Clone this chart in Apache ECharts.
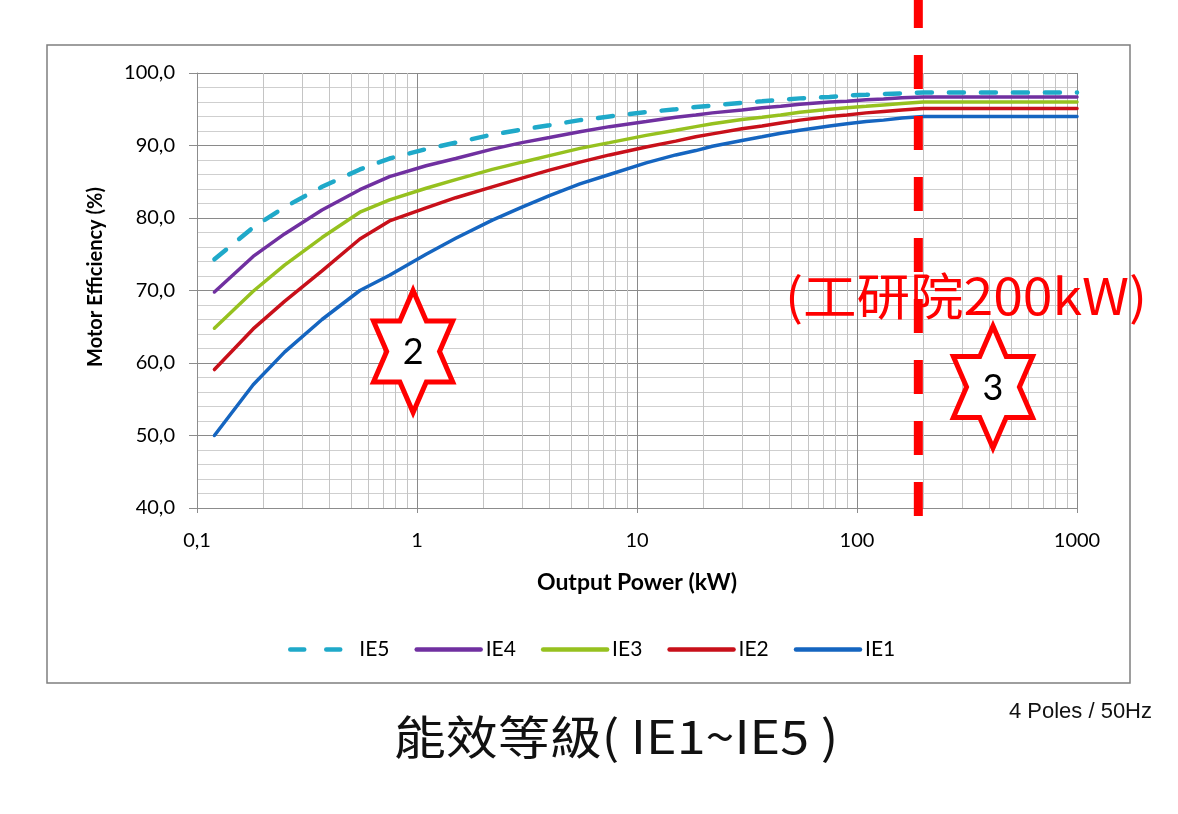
<!DOCTYPE html>
<html>
<head>
<meta charset="utf-8">
<title>能效等級</title>
<script src="https://cdn.jsdelivr.net/npm/echarts@6/dist/echarts.min.js"></script>
<style>
    html, body { margin: 0; padding: 0; background: #fff; }
    #chart { width: 1178px; height: 814px; }
</style>
</head>
<body>
<div id="chart"></div>
<script>
// rated output power (kW), 4 poles / 50Hz
const powers = [0.12, 0.18, 0.25, 0.37, 0.55, 0.75, 1.1, 1.5, 2.2, 3, 4, 5.5, 7.5, 11, 15, 18.5, 22, 30, 37, 45, 55, 75, 90, 110, 132, 160, 200, 1000]

const ie5 = [74.3, 78.7, 81.5, 84.3, 86.7, 88.2, 89.5, 90.4, 91.5, 92.2, 92.8, 93.5, 94.0, 94.6, 95.0, 95.3, 95.5, 95.9, 96.1, 96.3, 96.5, 96.7, 96.9, 97.0, 97.1, 97.2, 97.3, 97.3]
const ie4 = [69.8, 74.7, 77.8, 81.1, 83.9, 85.7, 87.2, 88.2, 89.5, 90.4, 91.1, 91.9, 92.6, 93.3, 93.9, 94.2, 94.5, 94.9, 95.2, 95.4, 95.7, 96.0, 96.1, 96.3, 96.4, 96.6, 96.7, 96.7]
const ie3 = [64.8, 69.9, 73.5, 77.3, 80.8, 82.5, 84.1, 85.3, 86.7, 87.7, 88.6, 89.6, 90.4, 91.4, 92.1, 92.6, 93.0, 93.6, 93.9, 94.2, 94.6, 95.0, 95.2, 95.4, 95.6, 95.8, 96.0, 96.0]
const ie2 = [59.1, 64.7, 68.5, 72.7, 77.1, 79.6, 81.4, 82.8, 84.3, 85.5, 86.6, 87.7, 88.7, 89.8, 90.6, 91.2, 91.6, 92.3, 92.7, 93.1, 93.5, 94.0, 94.2, 94.5, 94.7, 94.9, 95.1, 95.1]
const ie1 = [50.0, 57.0, 61.5, 66.0, 70.0, 72.1, 75.0, 77.2, 79.7, 81.5, 83.1, 84.7, 86.0, 87.6, 88.7, 89.3, 89.9, 90.7, 91.2, 91.7, 92.1, 92.7, 93.0, 93.3, 93.5, 93.8, 94.0, 94.0]

// log-axis minor gridlines (2..9 of each decade)
const minorPowers = [0.2, 0.3, 0.4, 0.5, 0.6, 0.7, 0.8, 0.9, 2, 3, 4, 5, 6, 7, 8, 9, 20, 30, 40, 50, 60, 70, 80, 90, 200, 300, 400, 500, 600, 700, 800, 900]

// hand-drawn annotations (the red marker sits just left of the 200 gridline)
const markKW = 190
const stars = [
    { label: '2', at: [0.96, 61.6] },
    { label: '3', at: [415, 56.7] }
]

const font = 'Lato, "Open Sans", sans-serif'
const cjk = '"Noto Sans CJK TC", "Noto Sans CJK SC", sans-serif'

const chart = echarts.init(document.getElementById('chart'))

const pair = ys => powers.map((p, i) => [p, ys[i]])

const lineSeries = (name, ys, color, dashed) => ({
    name: name,
    type: 'line',
    data: pair(ys),
    showSymbol: false,
    symbol: 'none',
    z: 3,
    lineStyle: {
        color: color,
        width: dashed ? 4.5 : 3.5,
        type: dashed ? [15, 17] : 'solid',
        cap: 'round'
    },
    itemStyle: { color: color }
})

chart.setOption({
    animation: false,
    backgroundColor: '#fff',
    grid: { left: 197, right: 101, top: 73, bottom: 306 },
    legend: {
        left: 283,
        top: 634,
        itemWidth: 64,
        itemHeight: 12,
        itemGap: 25,
        itemStyle: { opacity: 0, borderWidth: 0 },
        lineStyle: { width: 4.5, cap: 'round' },
        textStyle: { fontFamily: font, fontSize: 21, color: '#000' },
        data: [
            { name: 'IE5', lineStyle: { type: [14, 22] } },
            'IE4', 'IE3', 'IE2', 'IE1'
        ]
    },
    xAxis: {
        type: 'log',
        logBase: 10,
        min: 0.1,
        max: 1000,
        name: 'Output Power (kW)',
        nameLocation: 'middle',
        nameGap: 63,
        nameTextStyle: { fontFamily: font, fontSize: 23, fontWeight: 'bold', color: '#000' },
        axisLine: { lineStyle: { color: '#8c8c8c', width: 1 } },
        axisTick: { show: true, length: 5, lineStyle: { color: '#8c8c8c' } },
        axisLabel: {
            margin: 23,
            fontFamily: font,
            fontSize: 20,
            color: '#000',
            formatter: v => String(v).replace('.', ',')
        },
        splitLine: { show: true, lineStyle: { color: '#8a8a8a', width: 1 } }
    },
    yAxis: {
        type: 'value',
        min: 40,
        max: 100,
        interval: 10,
        axisLine: { show: true, lineStyle: { color: '#8c8c8c', width: 1 } },
        axisTick: { show: true, length: 8, lineStyle: { color: '#8c8c8c' } },
        axisLabel: {
            margin: 22,
            fontFamily: font,
            fontSize: 20,
            color: '#000',
            formatter: v => v.toFixed(1).replace('.', ',')
        },
        splitLine: { show: true, lineStyle: { color: '#8a8a8a', width: 1 } },
        minorTick: { show: false, splitNumber: 5 },
        minorSplitLine: { show: true, lineStyle: { color: '#cfcfcf', width: 1 } }
    },
    series: [
        {
            name: 'minor-grid',
            type: 'line',
            data: [],
            silent: true,
            z: 1,
            markLine: {
                silent: true,
                symbol: ['none', 'none'],
                z: 1,
                animation: false,
                label: { show: false },
                lineStyle: { color: '#c4c4c4', width: 1, type: 'solid' },
                emphasis: { disabled: true },
                data: minorPowers.map(p => ({ xAxis: p }))
            }
        },
        lineSeries('IE5', ie5, '#1fa9c9', true),
        lineSeries('IE4', ie4, '#7030a0', false),
        lineSeries('IE3', ie3, '#96c11f', false),
        lineSeries('IE2', ie2, '#c8101a', false),
        lineSeries('IE1', ie1, '#1565c0', false)
    ]
})

// annotations placed through the chart's own scales
const toPx = pt => chart.convertToPixel({ xAxisIndex: 0, yAxisIndex: 0 }, pt)

const starPoints = (cx, cy) => {
    const R = 61
    const sx = 0.75
    const pts = []
    for (let k = 0; k < 12; k++) {
        const ang = -Math.PI / 2 + k * Math.PI / 6
        const r = k % 2 === 0 ? R : R / Math.sqrt(3)
        pts.push([cx + Math.cos(ang) * r * sx, cy + Math.sin(ang) * r])
    }
    return pts
}

const markX = toPx([markKW, 40])[0]
const graphics = [
    {
        type: 'rect',
        shape: { x: 47, y: 45, width: 1083, height: 638 },
        style: { fill: 'none', stroke: '#7f7f7f', lineWidth: 1.5 },
        z: 0,
        silent: true
    },
    {
        // y axis title, set by hand: it sits a little above the plot's middle
        type: 'text',
        x: 96,
        y: 277,
        rotation: Math.PI / 2,
        style: {
            text: 'Motor Efficiency (%)',
            fill: '#000',
            font: 'bold 20px ' + font,
            align: 'center',
            verticalAlign: 'middle'
        },
        z: 5
    },
    {
        type: 'line',
        shape: { x1: markX, y1: -6, x2: markX, y2: 516 },
        style: { stroke: '#ff0000', lineWidth: 9, lineDash: [34, 27] },
        z: 20,
        silent: true
    },
    {
        type: 'text',
        x: 966,
        y: 296,
        scaleX: 1.07,
        style: {
            text: '(工研院200kW)',
            fill: '#ff0000',
            font: '50px ' + cjk,
            align: 'center',
            verticalAlign: 'middle'
        },
        z: 21
    },
    {
        type: 'text',
        x: 616,
        y: 737,
        scaleX: 1.13,
        style: {
            text: '能效等級( IE1~IE5 )',
            fill: '#111',
            font: '46px ' + cjk,
            align: 'center',
            verticalAlign: 'middle'
        },
        z: 21
    },
    {
        type: 'text',
        x: 1152,
        y: 712,
        style: {
            text: '4 Poles / 50Hz',
            fill: '#111',
            font: '22px "Liberation Sans", Arial, sans-serif',
            align: 'right',
            verticalAlign: 'middle'
        },
        z: 21
    }
]

stars.forEach(s => {
    const [cx, cy] = toPx(s.at)
    graphics.push({
        type: 'polygon',
        shape: { points: starPoints(cx, cy) },
        style: { fill: '#fff', stroke: '#ff0000', lineWidth: 5, lineJoin: 'miter' },
        z: 22,
        silent: true
    })
    graphics.push({
        type: 'text',
        x: cx,
        y: cy + 1,
        style: {
            text: s.label,
            fill: '#000',
            font: '36px ' + font,
            align: 'center',
            verticalAlign: 'middle'
        },
        z: 23
    })
})

chart.setOption({ graphic: graphics })
</script>
</body>
</html>
